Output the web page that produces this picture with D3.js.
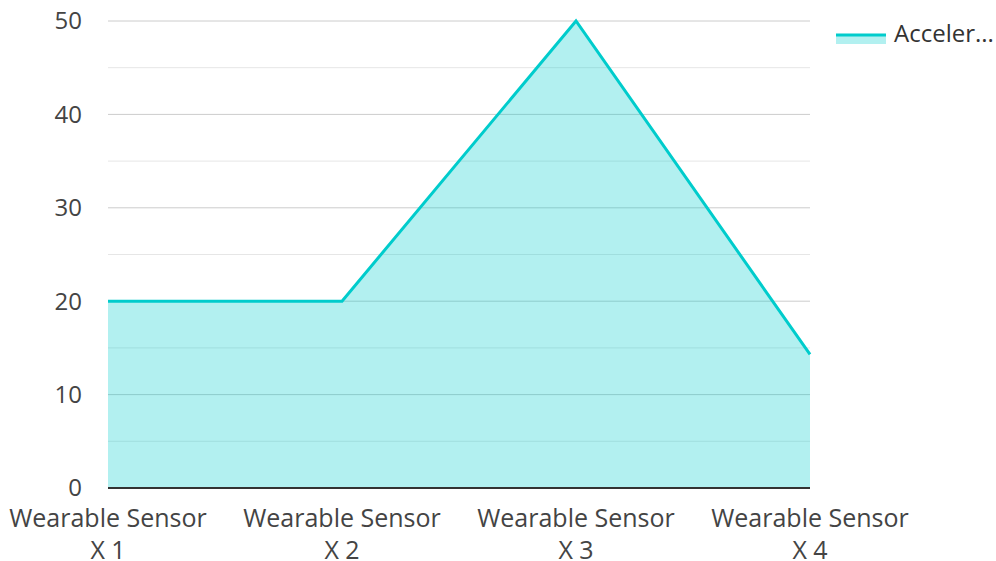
<!DOCTYPE html>
<html>
<head>
<meta charset="utf-8">
<script src="https://cdn.jsdelivr.net/npm/d3@7"></script>
<style>
  body { margin: 0; background: #fff; }
  svg { display: block; font-family: "Open Sans", sans-serif; }
</style>
</head>
<body>
<svg id="chart" width="996" height="561"></svg>
<script>
const categories = ["Wearable Sensor X 1", "Wearable Sensor X 2", "Wearable Sensor X 3", "Wearable Sensor X 4"];
const values = [20, 20, 50, 14.3];
const seriesName = "Acceler...";
const yTicks = [0, 10, 20, 30, 40, 50];
const yMinorTicks = [5, 15, 25, 35, 45];

const svg = d3.select("#chart");
const m = { left: 108, right: 810, top: 21, bottom: 488 };

const x = d3.scalePoint().domain(categories).range([m.left, m.right]);
const y = d3.scaleLinear().domain([0, 50]).range([m.bottom, m.top]);

// minor gridlines
svg.append("g").selectAll("line").data(yMinorTicks).join("line")
  .attr("x1", m.left).attr("x2", m.right)
  .attr("y1", d => y(d)).attr("y2", d => y(d))
  .attr("stroke", "#e6e6e6").attr("stroke-width", 1);

// major gridlines
svg.append("g").selectAll("line").data(yTicks.filter(d => d > 0)).join("line")
  .attr("x1", m.left).attr("x2", m.right)
  .attr("y1", d => y(d)).attr("y2", d => y(d))
  .attr("stroke", "#cccccc").attr("stroke-width", 1);

const rows = categories.map((c, i) => ({ c, v: values[i] }));

// area
svg.append("path")
  .datum(rows)
  .attr("d", d3.area().x(d => x(d.c)).y0(y(0)).y1(d => y(d.v)))
  .attr("fill", "#00cccc").attr("fill-opacity", 0.3);

// line
svg.append("path")
  .datum(rows)
  .attr("d", d3.line().x(d => x(d.c)).y(d => y(d.v)))
  .attr("fill", "none").attr("stroke", "#00cccc").attr("stroke-width", 3)
  .attr("stroke-linejoin", "miter");

// baseline axis
svg.append("line")
  .attr("x1", m.left).attr("x2", m.right)
  .attr("y1", y(0)).attr("y2", y(0))
  .attr("stroke", "#333").attr("stroke-width", 2);

// y labels
svg.append("g").selectAll("text").data(yTicks).join("text")
  .attr("x", 82).attr("y", d => y(d))
  .attr("dy", "0.35em")
  .attr("text-anchor", "end")
  .attr("font-size", 24).attr("fill", "#444")
  .text(d => d);

// x labels (two lines)
const xl = svg.append("g").selectAll("text").data(categories).join("text")
  .attr("x", d => x(d)).attr("y", 527)
  .attr("text-anchor", "middle")
  .attr("font-size", 25).attr("fill", "#444");
xl.append("tspan").attr("x", d => x(d)).text(d => d.replace(/ X \d+$/, ""));
xl.append("tspan").attr("x", d => x(d)).attr("dy", 32).text(d => d.match(/X \d+$/)[0]);

// legend
const lg = svg.append("g");
lg.append("rect").attr("x", 836).attr("y", 36).attr("width", 50).attr("height", 8)
  .attr("fill", "#00cccc").attr("fill-opacity", 0.3);
lg.append("line").attr("x1", 836).attr("x2", 886).attr("y1", 35).attr("y2", 35)
  .attr("stroke", "#00cccc").attr("stroke-width", 3);
lg.append("text").attr("x", 894).attr("y", 34).attr("dy", "0.35em")
  .attr("font-size", 24).attr("fill", "#333").text(seriesName);
</script>
</body>
</html>
